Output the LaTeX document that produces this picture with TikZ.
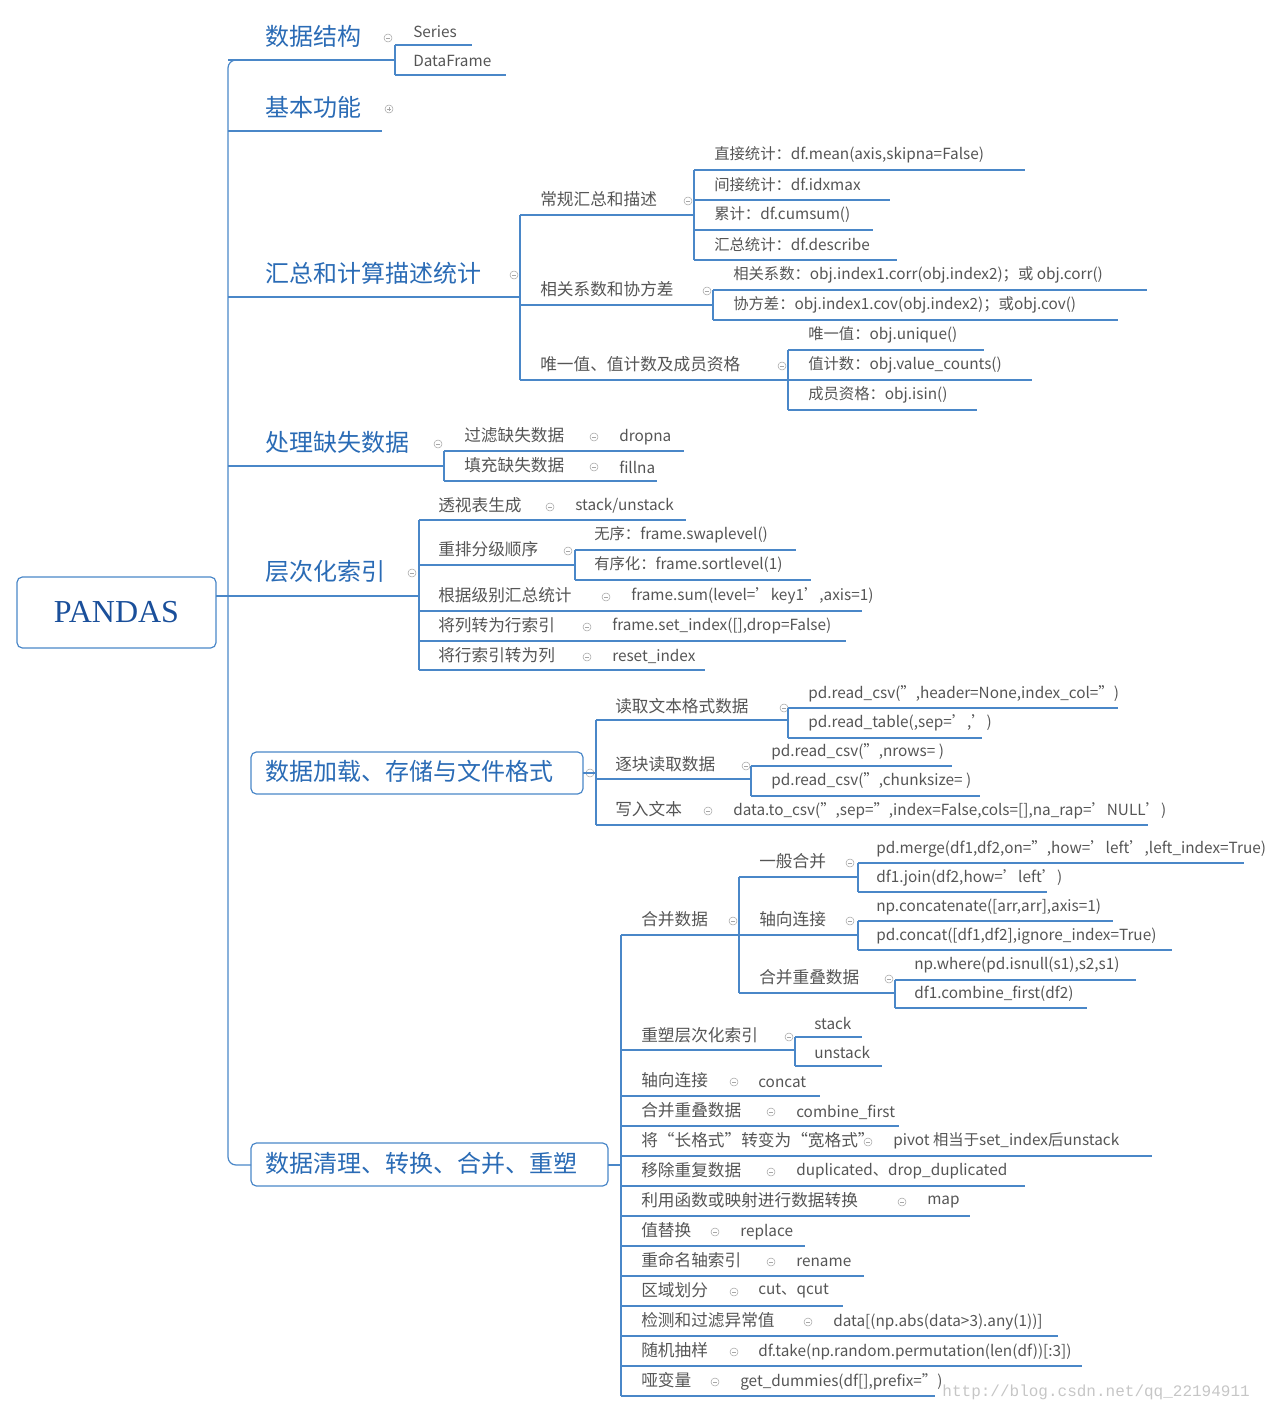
\documentclass[tikz,border=0pt]{standalone}
\usepackage{fontspec}
\setmainfont{Noto Sans CJK SC}
\newfontfamily\rootfont{Liberation Serif}
\newfontfamily\wmfont{Liberation Mono}
\definecolor{lblue}{HTML}{4A87C8}
\definecolor{tblue}{HTML}{2A6BB5}
\definecolor{tgray}{HTML}{555555}
\definecolor{rblue}{HTML}{1A4F9A}
\tikzset{
 ln/.style={draw=lblue,line width=0.9pt},
 lone/.style={text=tblue,font=\fontsize{18}{20}\selectfont,anchor=west,inner sep=0},
 ltwo/.style={text=tgray,font=\fontsize{12.5}{14}\selectfont,anchor=west,inner sep=0},
 leaf/.style={text=tgray,font=\fontsize{11.5}{13}\selectfont,anchor=west,inner sep=0},
 tog/.style={draw=gray!70,line width=0.4pt,circle,minimum size=6pt,inner sep=0},
}
\newcommand\mU[3]{\draw[ln] (#1,#3)--(#2,#3);}
\newcommand\mV[3]{\draw[ln] (#1,#2)--(#1,#3);}
\newcommand\mA[3]{\node[ltwo] at (#1,#2) {#3};}
\newcommand\mL[3]{\node[leaf] at (#1,#2) {#3};}
\newcommand\mO[3]{\node[lone] at (#1,#2) {#3};}
\newcommand\mC[2]{\node[tog] at (#1,#2) {}; \draw[gray!70,line width=0.4pt] (#1-2,#2)--(#1+2,#2);}
\newcommand\mP[2]{\node[tog] at (#1,#2) {}; \draw[gray!70,line width=0.4pt] (#1-2,#2)--(#1+2,#2) (#1,#2-2)--(#1,#2+2);}
\begin{document}
\begin{tikzpicture}[x=0.75pt,y=-0.75pt]
\path (0,0) rectangle (1261,1412);
% root
\node[draw=lblue,line width=0.9pt,rounded corners=4pt,minimum width=199*0.75pt,minimum height=71*0.75pt,
 text=rblue,font=\rootfont\fontsize{24}{26}\selectfont] (root) at (116.5,612.5) {PANDAS};
\draw[ln] (216,596)--(228,596);
\draw[ln,rounded corners=6pt] (238,60)--(228,60)--(228,1165)--(251,1165);
% 1
\mO{265}{36}{数据结构}\mC{388}{38}
\mU{228}{395}{60}\mV{395}{45}{75}
\mU{395}{472}{45}\mU{395}{506}{75}
\mL{413}{32}{Series}\mL{413}{61}{DataFrame}
% 2
\mO{265}{107}{基本功能}\mP{389}{109}
\mU{228}{382}{131}
% 3
\mO{265}{273}{汇总和计算描述统计}\mC{514}{275}
\mU{228}{520}{297}\mV{520}{215}{380}
\mA{540}{199}{常规汇总和描述}\mC{688}{201}
\mU{520}{694}{215}\mV{694}{170}{260}
\mL{714}{155}{直接统计：df.mean(axis,skipna=False)}\mU{694}{1025}{170}
\mL{714}{185}{间接统计：df.idxmax}\mU{694}{890}{200}
\mL{714}{215}{累计：df.cumsum()}\mU{694}{873}{230}
\mL{714}{245}{汇总统计：df.describe}\mU{694}{897}{260}
\mA{540}{289}{相关系数和协方差}\mC{707}{291}
\mU{520}{713}{305}\mV{713}{290}{320}
\mL{733}{275}{相关系数：obj.index1.corr(obj.index2)；或 obj.corr()}\mU{713}{1147}{290}
\mL{733}{305}{协方差：obj.index1.cov(obj.index2)；或obj.cov()}\mU{713}{1118}{320}
\mA{540}{364}{唯一值、值计数及成员资格}\mC{782}{366}
\mU{520}{788}{380}\mV{788}{350}{410}
\mL{808}{335}{唯一值：obj.unique()}\mU{788}{984}{350}
\mL{808}{365}{值计数：obj.value\_counts()}\mU{788}{1032}{380}
\mL{808}{395}{成员资格：obj.isin()}\mU{788}{977}{410}
% 4
\mO{265}{442}{处理缺失数据}\mC{438}{444}
\mU{228}{444}{466}\mV{444}{451}{481}
\mA{464}{435}{过滤缺失数据}\mC{594}{437}\mL{619}{437}{dropna}\mU{444}{684}{451}
\mA{464}{465}{填充缺失数据}\mC{594}{467}\mL{619}{467}{fillna}\mU{444}{657}{481}
% 5
\mO{265}{571}{层次化索引}\mC{412}{573}
\mU{228}{419}{596}\mV{419}{520}{670}
\mA{438}{505}{透视表生成}\mC{550}{507}\mL{575}{506}{stack/unstack}\mU{419}{686}{520}
\mA{438}{549}{重排分级顺序}\mC{568}{551}
\mU{419}{575}{565}\mV{575}{550}{580}
\mL{594}{535}{无序：frame.swaplevel()}\mU{575}{796}{550}
\mL{594}{565}{有序化：frame.sortlevel(1)}\mU{575}{811}{580}
\mA{438}{595}{根据级别汇总统计}\mC{606}{597}\mL{631}{596}{frame.sum(level='key1',axis=1)}\mU{419}{862}{611}
\mA{438}{625}{将列转为行索引}\mC{587}{627}\mL{612}{626}{frame.set\_index([],drop=False)}\mU{419}{846}{641}
\mA{438}{655}{将行索引转为列}\mC{587}{657}\mL{612}{656}{reset\_index}\mU{419}{705}{670}
% 6
\draw[ln,rounded corners=4pt] (251,752) rectangle (583,794);
\mO{265}{771}{数据加载、存储与文件格式}\mC{590}{773}
\draw[ln] (583,773)--(596,773);\mV{596}{720}{825}
\mA{615}{706}{读取文本格式数据}\mC{784}{708}
\mU{596}{788}{720}\mV{788}{708}{738}
\mL{808}{694}{pd.read\_csv('',header=None,index\_col='')}\mU{788}{1118}{708}
\mL{808}{723}{pd.read\_table(,sep=',')}\mU{788}{982}{738}
\mA{615}{764}{逐块读取数据}\mC{746}{766}
\mU{596}{751}{779}\mV{751}{766}{796}
\mL{771}{752}{pd.read\_csv('',nrows= )}\mU{751}{952}{766}
\mL{771}{781}{pd.read\_csv('',chunksize= )}\mU{751}{980}{796}
\mA{615}{809}{写入文本}\mC{708}{811}\mL{733}{811}{data.to\_csv('',sep='',index=False,cols=[],na\_rap='NULL')}\mU{596}{1148}{825}
% 7
\draw[ln,rounded corners=4pt] (251,1143) rectangle (608,1186);
\mO{265}{1163}{数据清理、转换、合并、重塑}
\draw[ln] (608,1165)--(621,1165);\mV{621}{935}{1396}
\mA{641}{919}{合并数据}\mC{733}{921}
\mU{621}{739}{935}\mV{739}{877}{993}
\mA{759}{861}{一般合并}\mC{850}{863}
\mU{739}{858}{877}\mV{858}{863}{892}
\mL{876}{849}{pd.merge(df1,df2,on='',how='left',left\_index=True)}\mU{858}{1244}{863}
\mL{876}{878}{df1.join(df2,how='left')}\mU{858}{1047}{892}
\mA{759}{919}{轴向连接}\mC{850}{921}
\mU{739}{858}{935}\mV{858}{921}{950}
\mL{876}{907}{np.concatenate([arr,arr],axis=1)}\mU{858}{1113}{921}
\mL{876}{936}{pd.concat([df1,df2],ignore\_index=True)}\mU{858}{1172}{950}
\mA{759}{977}{合并重叠数据}\mC{889}{979}
\mU{739}{895}{993}\mV{895}{980}{1008}
\mL{914}{965}{np.where(pd.isnull(s1),s2,s1)}\mU{895}{1136}{980}
\mL{914}{994}{df1.combine\_first(df2)}\mU{895}{1087}{1008}
\mA{641}{1035}{重塑层次化索引}\mC{789}{1037}
\mU{621}{795}{1050}\mV{795}{1037}{1066}
\mL{814}{1023}{stack}\mU{795}{862}{1037}
\mL{814}{1052}{unstack}\mU{795}{882}{1066}
\mA{641}{1080}{轴向连接}\mC{734}{1082}\mL{758}{1082}{concat}\mU{621}{820}{1096}
\mA{641}{1110}{合并重叠数据}\mC{771}{1112}\mL{796}{1112}{combine\_first}\mU{621}{899}{1126}
\mA{641}{1140}{将“长格式”转变为“宽格式”}\mC{868}{1142}\mL{893}{1141}{pivot 相当于set\_index后unstack}\mU{621}{1152}{1156}
\mA{641}{1170}{移除重复数据}\mC{771}{1172}\mL{796}{1171}{duplicated、drop\_duplicated}\mU{621}{1025}{1186}
\mA{641}{1200}{利用函数或映射进行数据转换}\mC{902}{1202}\mL{927}{1202}{map}\mU{621}{970}{1216}
\mA{641}{1230}{值替换}\mC{715}{1232}\mL{740}{1232}{replace}\mU{621}{805}{1246}
\mA{641}{1260}{重命名轴索引}\mC{771}{1262}\mL{796}{1262}{rename}\mU{621}{864}{1276}
\mA{641}{1290}{区域划分}\mC{734}{1292}\mL{758}{1291}{cut、qcut}\mU{621}{843}{1306}
\mA{641}{1320}{检测和过滤异常值}\mC{808}{1322}\mL{833}{1322}{data[(np.abs(data>3).any(1))]}\mU{621}{1058}{1336}
\mA{641}{1350}{随机抽样}\mC{734}{1352}\mL{758}{1352}{df.take(np.random.permutation(len(df))[:3])}\mU{621}{1082}{1366}
\mA{641}{1380}{哑变量}\mC{715}{1382}\mL{740}{1382}{get\_dummies(df[],prefix='')}\mU{621}{935}{1396}
\node[text=gray!45,font=\wmfont\fontsize{12}{14}\selectfont,anchor=east,inner sep=0] at (1250,1392) {http://blog.csdn.net/qq\_22194911};
\end{tikzpicture}
\end{document}
